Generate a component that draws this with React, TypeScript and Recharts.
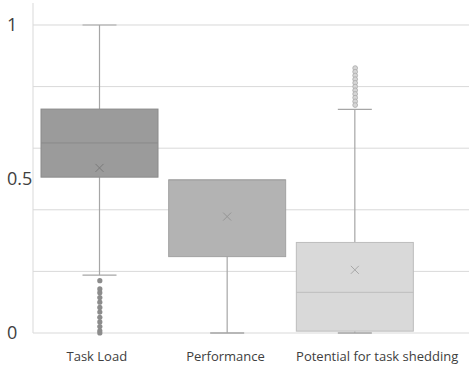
import { ComposedChart, Bar, Scatter, XAxis, YAxis, CartesianGrid } from "recharts";

const categories = ["Task Load", "Performance", "Potential for task shedding"];
const minValues = [0.188, 0, 0];
const q1Values = [0.506, 0.248, 0.006];
const medianValues = [0.617, 0.497, 0.132];
const q3Values = [0.727, 0.497, 0.294];
const maxValues = [1, 0.497, 0.726];
const meanValues = [0.536, 0.378, 0.205];

const taskLoadOutliers = [0.17, 0.143, 0.131, 0.115, 0.1, 0.083, 0.068, 0.051, 0.036, 0.021, 0.007, 0];
const sheddingOutliers = [0.86, 0.848, 0.836, 0.824, 0.812, 0.8, 0.788, 0.776, 0.764, 0.752, 0.74];

const yTicks = [0, 0.5, 1];
const gridValues = [0, 0.2, 0.4, 0.6, 0.8, 1];

const boxColors = [
  { fill: "#9b9b9b", stroke: "#8a8a8a", mark: "#7a7a7a" },
  { fill: "#b3b3b3", stroke: "#a2a2a2", mark: "#959595" },
  { fill: "#d9d9d9", stroke: "#bdbdbd", mark: "#a8a8a8" },
];

const data = categories.map((name, i) => ({
  name,
  range: [minValues[i], maxValues[i]],
  min: minValues[i],
  q1: q1Values[i],
  median: medianValues[i],
  q3: q3Values[i],
  max: maxValues[i],
  mean: meanValues[i],
  idx: i,
}));

const taskLoadPoints = taskLoadOutliers.map((v) => ({ name: categories[0], value: v }));
const sheddingPoints = sheddingOutliers.map((v) => ({ name: categories[2], value: v }));

const whisker = "#a6a6a6";

function BoxShape(props: any) {
  const { x, y, width, height, payload } = props;
  const { min, max, q1, q3, median, mean, idx } = payload;
  const span = max - min || 1;
  const toY = (v: number) => y + ((max - v) / span) * height;
  const cx = x + width / 2;
  const c = boxColors[idx];
  const cap = 17;
  const m = 4;
  const my = toY(mean);
  return (
    <g>
      <line x1={cx} x2={cx} y1={toY(max)} y2={toY(q3)} stroke={whisker} strokeWidth={1.2} />
      <line x1={cx} x2={cx} y1={toY(q1)} y2={toY(min)} stroke={whisker} strokeWidth={1.2} />
      {max > q3 && <line x1={cx - cap} x2={cx + cap} y1={toY(max)} y2={toY(max)} stroke={whisker} strokeWidth={1.2} />}
      <line x1={cx - cap} x2={cx + cap} y1={toY(min)} y2={toY(min)} stroke={whisker} strokeWidth={1.4} />
      <rect x={x} y={toY(q3)} width={width} height={toY(q1) - toY(q3)} fill={c.fill} stroke={c.stroke} strokeWidth={1} />
      <line x1={x} x2={x + width} y1={toY(median)} y2={toY(median)} stroke={c.stroke} strokeWidth={1} />
      <line x1={cx - m} x2={cx + m} y1={my - m} y2={my + m} stroke={c.mark} strokeWidth={1} />
      <line x1={cx - m} x2={cx + m} y1={my + m} y2={my - m} stroke={c.mark} strokeWidth={1} />
    </g>
  );
}

const labelShift = [-3, -2, 22];

function XTick(props: any) {
  const { x, y, payload, index } = props;
  return (
    <text
      x={x + (labelShift[index] || 0)}
      y={y + 20}
      textAnchor="middle"
      fontFamily="'Open Sans', sans-serif"
      fontSize={13}
      fill="#404040"
    >
      {payload.value}
    </text>
  );
}

function YTick(props: any) {
  const { y, payload } = props;
  return (
    <text x={7} y={y + 6} textAnchor="start" fontFamily="'Open Sans', sans-serif" fontSize={18} fill="#404040">
      {payload.value}
    </text>
  );
}

export default function App() {
  return (
    <div style={{ position: "fixed", left: 0, top: 0, background: "#fff" }}>
      <ComposedChart width={474} height={381} data={data} margin={{ top: 3, right: 5, bottom: 0, left: 0 }}>
        <CartesianGrid vertical={false} horizontalValues={gridValues} stroke="#d9d9d9" />
        <XAxis
          dataKey="name"
          type="category"
          allowDuplicatedCategory={false}
          padding={{ left: 3, right: 50 }}
          tickLine={false}
          axisLine={false}
          tick={<XTick />}
          height={48}
          interval={0}
        />
        <YAxis
          type="number"
          domain={[0, 1.0714]}
          ticks={yTicks}
          width={33}
          tickLine={false}
          axisLine={{ stroke: "#d9d9d9" }}
          tick={<YTick />}
        />
        <Bar dataKey="range" barSize={117} shape={<BoxShape />} isAnimationActive={false} />
        <Scatter data={taskLoadPoints} dataKey="value" fill="#8c8c8c" isAnimationActive={false}
          shape={(p: any) => <circle cx={p.cx} cy={p.cy} r={2.6} fill="#8c8c8c" />} />
        <Scatter data={sheddingPoints} dataKey="value" isAnimationActive={false}
          shape={(p: any) => <circle cx={p.cx} cy={p.cy} r={2.4} fill="#d6d6d6" stroke="#aaaaaa" strokeWidth={0.8} />} />
      </ComposedChart>
    </div>
  );
}
